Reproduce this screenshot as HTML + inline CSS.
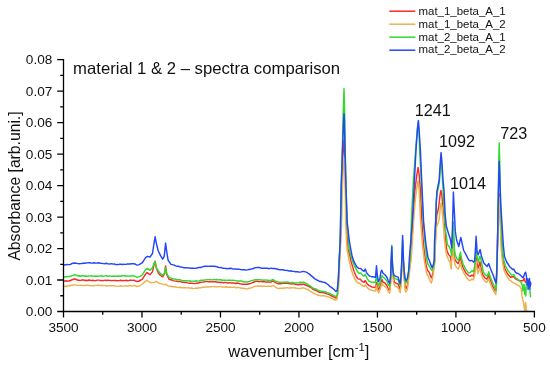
<!DOCTYPE html>
<html><head><meta charset="utf-8"><title>material 1 &amp; 2 – spectra comparison</title>
<style>
html,body{margin:0;padding:0;background:#fff;}
body{width:550px;height:368px;overflow:hidden;}
svg{display:block;}
text{font-family:"Liberation Sans",Arial,sans-serif;fill:#111;}
</style></head><body>
<svg width="550" height="368" viewBox="0 0 550 368">
<rect width="550" height="368" fill="#fff"/>
<polyline points="64.2,281.1 65.7,280.8 67.1,281.2 68.5,281.0 70.0,280.8 71.4,280.0 72.9,279.5 74.3,278.8 76.2,279.5 78.0,280.2 79.4,280.3 80.8,280.4 82.1,280.0 83.5,279.9 84.9,280.5 86.2,280.2 87.6,280.5 89.0,280.0 90.4,280.3 91.8,280.5 93.1,280.2 94.5,280.6 95.9,280.6 97.2,280.1 98.6,280.1 100.0,280.4 101.3,280.4 102.6,280.7 103.9,280.4 105.2,280.3 106.5,280.5 107.8,280.2 109.2,280.4 110.5,280.5 111.8,280.6 113.1,280.5 114.4,280.5 115.7,280.5 117.0,280.7 118.3,280.6 119.6,280.5 120.9,280.3 122.2,280.8 123.5,280.5 124.8,280.6 126.2,280.2 127.5,280.7 128.8,280.6 130.1,280.1 131.4,280.2 132.7,280.4 134.0,280.2 135.6,281.0 137.1,281.5 138.6,281.3 140.0,280.5 142.4,279.2 145.6,274.1 147.1,272.6 148.6,273.7 150.0,274.8 152.5,271.6 154.2,264.0 155.1,261.1 156.3,267.8 158.5,273.5 159.9,274.8 161.3,275.8 162.7,276.8 164.6,273.5 165.6,265.9 166.7,274.5 169.0,279.2 170.3,279.5 171.7,280.0 173.0,280.6 174.4,280.9 175.7,281.1 177.1,281.3 178.4,281.6 179.8,281.4 181.1,281.8 182.5,282.4 183.8,282.3 185.2,282.6 186.6,282.5 187.9,282.9 189.3,283.2 190.6,283.3 192.0,283.2 193.3,283.4 194.7,283.6 196.2,283.3 197.7,283.2 199.3,282.7 200.8,282.3 202.3,282.1 203.8,282.0 205.3,281.6 206.9,281.4 208.4,281.8 209.9,281.5 211.3,281.9 212.6,281.8 214.0,281.7 215.4,281.7 216.8,282.0 218.1,282.4 219.5,282.2 220.9,282.5 222.2,282.4 223.6,282.7 224.9,282.4 226.3,282.6 227.6,283.0 229.0,282.8 230.4,282.9 231.7,282.9 233.1,282.9 234.4,283.2 235.8,283.5 237.1,283.0 238.5,283.4 240.0,283.8 241.5,284.0 243.1,284.2 244.6,284.3 246.1,284.3 247.7,284.2 249.3,283.7 250.9,283.4 252.5,282.7 254.1,282.0 255.7,281.3 257.1,281.1 258.4,281.7 259.8,281.6 261.1,281.5 262.5,281.7 263.8,281.8 265.2,281.9 266.6,281.9 268.0,282.0 269.5,282.1 270.9,282.2 273.2,280.9 274.7,282.2 276.6,283.1 278.5,283.8 280.0,283.8 281.5,283.6 283.1,283.3 284.6,283.3 286.1,283.4 287.6,283.3 289.1,283.6 290.7,283.9 292.2,283.9 293.7,283.8 295.4,284.3 297.1,284.6 298.8,284.7 300.4,284.3 302.0,284.5 303.6,284.1 305.5,285.0 307.4,285.7 308.7,286.3 310.0,287.0 311.4,287.8 312.7,289.1 314.0,289.8 315.4,290.3 316.9,290.8 318.3,291.8 319.7,292.3 321.1,292.5 322.5,292.5 324.0,292.8 325.4,293.3 326.8,293.9 328.2,294.2 329.7,294.9 331.1,295.6 332.7,296.5 334.3,297.2 335.9,298.0 337.2,296.7 338.3,285.0 339.4,259.0 340.4,240.0 340.9,220.0 341.6,185.0 342.6,160.0 343.6,145.0 344.0,140.0 344.4,145.0 344.9,160.0 345.5,185.0 346.3,222.0 347.3,240.0 348.2,250.0 349.8,255.5 350.9,260.9 352.5,266.4 354.2,271.8 356.4,276.7 358.0,278.9 360.2,279.2 362.4,281.6 364.0,282.2 365.3,280.5 366.7,283.3 368.9,285.5 370.5,286.2 372.2,287.1 373.9,287.3 375.5,287.6 376.5,282.7 377.6,287.6 378.7,289.8 380.6,285.0 382.0,279.5 383.1,282.2 384.7,282.7 386.9,285.5 388.2,288.9 389.6,290.3 390.6,282.0 391.2,266.0 391.8,254.0 392.4,266.0 393.6,279.1 394.7,282.4 396.4,283.5 398.0,283.8 399.4,287.8 400.2,289.2 401.0,282.0 401.8,266.0 402.6,248.0 403.5,266.0 404.5,280.0 405.3,287.8 406.0,288.6 407.5,285.1 409.2,270.9 410.5,260.0 412.0,235.0 412.9,220.0 415.0,190.0 416.8,175.0 418.1,167.4 419.2,175.0 420.4,190.0 421.8,220.0 423.5,245.0 425.3,260.0 426.4,266.5 427.5,270.4 429.1,272.0 430.7,276.4 431.6,278.0 432.9,273.1 434.0,265.5 434.9,260.0 435.4,241.0 436.0,225.0 436.8,215.0 437.5,212.7 438.5,208.0 439.5,200.0 440.3,193.0 441.0,190.4 441.8,195.0 442.8,205.0 444.0,215.0 445.2,231.4 446.3,246.6 446.8,250.0 448.5,254.4 450.3,256.5 451.4,262.0 452.2,245.0 452.9,228.0 453.6,245.0 454.3,256.0 455.0,259.8 456.6,262.0 458.3,263.6 459.7,259.0 460.5,256.5 461.5,263.1 463.2,268.0 465.9,272.9 468.6,275.6 470.3,276.2 471.9,275.1 473.5,276.2 474.6,272.0 475.5,262.0 476.1,254.0 476.8,262.0 477.9,268.5 478.7,266.5 479.5,263.1 480.0,262.0 481.1,268.5 482.7,274.5 484.9,277.8 487.1,279.2 488.7,275.1 490.4,280.5 492.5,286.0 494.7,290.0 495.8,291.5 496.7,275.0 497.4,245.0 498.2,215.0 498.8,198.0 499.2,193.5 499.7,200.0 500.4,220.0 501.8,250.0 503.1,260.9 504.5,268.0 507.3,273.5 510.5,277.3 512.1,276.7 513.8,276.8 515.5,278.9 516.9,279.5 518.2,280.3 519.6,280.8 521.2,280.7 522.9,280.8 524.5,278.5 525.3,282.0 526.4,283.0 527.5,280.5 528.6,282.0 529.4,285.0 530.2,286.1 530.7,283.0" fill="none" stroke="#fb2828" stroke-width="1.45" stroke-linejoin="round" stroke-linecap="round"/>
<polyline points="64.2,286.3 65.7,286.5 67.1,286.3 68.5,285.6 70.0,285.8 71.4,285.1 72.9,285.2 74.3,284.6 76.2,285.1 78.0,285.3 79.4,285.4 80.8,285.2 82.1,285.4 83.5,285.4 84.9,285.4 86.2,285.2 87.6,285.3 89.0,285.3 90.4,285.6 91.8,285.7 93.1,285.7 94.5,285.5 95.9,285.4 97.2,285.3 98.6,285.2 100.0,285.5 101.3,285.2 102.6,285.6 103.9,285.5 105.2,285.6 106.5,286.0 107.8,285.8 109.2,285.9 110.5,285.7 111.8,285.6 113.1,285.8 114.4,285.8 115.7,286.1 117.0,286.1 118.3,286.4 119.6,286.1 120.9,285.8 122.2,286.2 123.5,286.1 124.8,286.0 126.2,286.0 127.5,285.9 128.8,285.9 130.1,285.5 131.4,285.9 132.7,285.8 134.0,285.5 135.6,285.8 137.1,286.5 138.6,286.2 140.0,285.5 142.4,284.0 145.6,281.1 147.1,280.2 148.6,281.5 150.0,282.5 151.9,282.5 153.8,282.6 156.3,281.5 158.5,283.0 160.1,283.5 161.7,283.9 163.3,284.4 165.8,284.4 168.0,285.9 169.5,286.4 171.1,286.3 172.6,286.8 174.2,286.7 175.7,287.0 177.1,287.4 178.4,287.5 179.8,287.3 181.1,287.5 182.5,287.8 183.8,287.8 185.2,287.8 186.6,287.9 187.9,287.8 189.3,287.9 190.6,288.3 192.0,288.0 193.3,288.6 194.7,288.4 196.2,288.0 197.7,288.2 199.3,287.6 200.8,287.7 202.3,287.2 203.8,287.3 205.3,287.0 206.9,287.0 208.4,287.0 209.9,286.8 211.3,286.8 212.6,286.6 214.0,286.5 215.4,286.7 216.8,286.9 218.1,286.7 219.5,286.6 220.9,286.4 222.2,287.0 223.6,287.0 224.9,287.2 226.3,286.8 227.6,287.3 229.0,287.2 230.4,287.0 231.7,287.4 233.1,287.2 234.4,287.3 235.8,287.7 237.1,287.3 238.5,287.6 240.0,287.9 241.5,288.3 243.1,288.2 244.6,288.5 246.1,288.9 247.7,288.8 249.3,288.2 250.9,287.9 252.5,287.5 254.1,286.5 255.7,286.2 257.1,286.1 258.4,286.0 259.8,286.3 261.1,285.9 262.5,286.5 263.8,285.9 265.2,286.2 266.6,286.4 268.0,286.1 269.5,286.3 270.9,286.6 273.2,285.3 275.6,287.2 277.1,288.1 278.5,288.5 280.0,288.2 281.5,288.1 283.1,288.3 284.6,287.9 286.1,287.9 287.6,287.6 289.1,288.2 290.7,287.7 292.2,287.6 293.7,287.9 295.4,288.0 297.1,288.4 298.8,288.5 300.4,288.5 302.0,287.9 303.6,287.9 305.5,288.6 307.4,289.5 308.7,290.0 310.0,291.0 311.4,292.0 312.7,292.7 314.0,293.3 315.4,294.1 316.9,294.6 318.3,295.3 319.7,295.6 321.1,295.9 322.5,295.8 324.0,295.8 325.4,296.1 326.8,296.7 328.2,296.9 329.7,297.3 331.1,298.0 332.7,298.7 334.3,299.8 335.9,300.3 337.2,299.0 338.6,287.0 339.8,260.0 340.9,240.0 341.7,220.0 342.3,190.0 343.2,170.0 343.8,160.0 344.1,157.6 344.4,160.0 344.8,170.0 345.3,190.0 345.7,222.0 346.5,240.0 347.1,250.0 348.2,255.5 349.3,260.9 350.9,268.5 353.1,275.1 355.3,280.0 357.5,282.7 359.6,283.3 361.8,285.5 364.0,286.5 365.3,284.9 366.7,287.1 368.9,289.3 370.5,289.7 372.2,290.5 373.9,290.8 375.5,291.0 376.5,285.5 377.6,291.0 378.7,293.0 380.6,288.0 382.0,282.7 383.1,285.5 384.7,286.2 386.9,288.2 388.2,291.6 389.6,293.3 390.6,285.0 391.2,270.0 391.8,259.0 392.4,270.0 393.6,282.9 394.7,285.6 396.4,286.7 398.0,287.3 399.4,291.1 400.2,292.4 401.0,285.0 401.8,270.0 402.6,254.0 403.5,270.0 404.5,283.0 405.3,291.1 406.0,291.9 407.5,288.9 409.5,270.9 411.1,260.0 412.5,240.0 413.8,218.0 415.3,200.0 416.8,188.0 418.1,181.0 419.3,192.0 420.4,218.0 420.9,225.0 422.5,245.0 424.2,260.0 425.3,266.5 426.9,274.2 428.5,276.9 430.2,281.3 431.3,283.1 432.6,278.5 433.7,270.9 435.1,260.0 435.4,245.0 436.0,232.0 436.6,226.5 437.6,224.3 438.6,221.5 439.3,218.0 439.8,213.0 440.4,207.0 441.1,202.9 442.0,208.0 443.0,220.0 444.5,240.0 445.7,250.0 446.8,255.5 448.5,259.8 450.1,262.5 451.2,269.1 452.0,250.0 452.7,236.0 453.4,250.0 454.2,260.0 455.0,264.7 456.6,267.5 458.3,269.1 459.7,265.0 460.5,262.5 461.5,268.0 463.2,271.8 465.9,276.7 468.6,280.0 470.3,280.5 471.9,278.9 473.5,280.0 474.6,276.0 475.5,268.0 476.1,261.0 476.8,268.0 477.9,273.5 478.7,271.0 479.5,267.5 480.0,267.5 481.1,273.5 482.7,278.4 484.9,281.1 486.8,282.4 488.5,278.6 490.4,283.8 492.5,288.7 494.5,292.5 495.8,294.7 496.7,278.0 497.5,245.0 498.3,218.0 498.8,203.0 499.2,197.3 499.6,203.0 500.2,222.0 501.3,250.0 502.4,260.9 503.8,269.6 506.2,275.1 509.0,279.6 510.4,280.5 511.7,281.6 513.1,282.6 514.7,283.2 516.3,284.3 518.0,285.5 519.6,286.1 521.2,288.6 522.0,295.9 523.7,304.1 524.8,310.8 525.5,302.4 526.6,310.8" fill="none" stroke="#ecb24e" stroke-width="1.45" stroke-linejoin="round" stroke-linecap="round"/>
<polyline points="64.2,276.9 65.7,276.6 67.1,276.7 68.5,276.5 70.0,276.5 71.4,276.0 72.9,275.4 74.3,274.8 76.2,275.1 78.0,276.0 79.4,275.7 80.8,276.2 82.1,275.8 83.5,275.8 84.9,276.3 86.2,276.0 87.6,276.2 89.0,276.0 90.4,276.1 91.8,275.8 93.1,276.1 94.5,276.2 95.9,276.0 97.2,276.2 98.6,276.1 100.0,276.0 101.3,275.7 102.6,276.2 103.9,276.1 105.2,275.9 106.5,275.7 107.8,276.2 109.2,276.0 110.5,276.1 111.8,276.2 113.1,276.1 114.4,276.3 115.7,275.9 117.0,276.2 118.3,276.0 119.6,276.3 120.9,276.2 122.2,275.7 123.5,275.8 124.8,275.8 126.2,276.3 127.5,276.0 128.8,276.1 130.1,275.9 131.4,276.0 132.7,275.9 134.0,276.0 135.6,276.6 137.1,277.3 138.6,276.9 140.0,276.3 142.4,274.8 145.6,269.7 147.5,268.4 150.0,270.3 152.5,267.8 154.2,263.1 155.1,261.5 156.5,267.8 159.5,272.6 161.1,274.1 162.7,275.4 164.6,272.6 165.6,267.8 166.7,273.5 169.0,277.3 170.3,277.9 171.7,278.2 173.0,278.7 174.4,279.0 175.7,279.2 177.1,279.7 178.4,279.7 179.8,279.6 181.1,280.2 182.5,280.5 183.8,280.7 185.2,280.6 186.6,280.7 187.9,280.9 189.3,280.7 190.6,281.2 192.0,281.1 193.3,281.1 194.7,281.3 196.2,280.8 197.7,281.1 199.3,281.0 200.8,280.2 202.3,280.2 203.8,280.3 205.3,279.9 206.9,279.6 208.4,279.6 209.9,279.6 211.3,279.8 212.6,279.9 214.0,279.4 215.4,279.8 216.8,279.5 218.1,279.9 219.5,279.8 220.9,279.8 222.2,280.2 223.6,280.3 224.9,280.1 226.3,280.5 227.6,280.1 229.0,280.3 230.4,280.1 231.7,280.5 233.1,280.3 234.4,280.4 235.8,280.7 237.1,280.9 238.5,280.9 240.0,280.9 241.5,281.0 243.1,281.7 244.6,281.6 246.1,281.9 247.7,281.9 249.3,281.5 250.9,280.9 252.5,280.4 254.1,280.0 255.7,279.6 257.1,279.7 258.4,279.8 259.8,279.8 261.1,279.9 262.5,280.0 263.8,280.2 265.2,280.0 266.6,280.1 268.0,280.2 269.5,280.5 270.9,280.5 273.2,279.4 274.7,280.9 276.6,281.4 278.5,282.2 280.0,282.1 281.5,282.5 283.1,282.2 284.6,282.2 286.1,282.2 287.6,282.0 289.1,282.4 290.7,282.6 292.2,282.4 293.7,282.8 295.4,282.9 297.1,282.9 298.8,282.8 300.4,282.3 302.0,282.5 303.6,282.2 305.5,283.1 307.4,284.1 308.7,285.1 310.0,285.8 311.4,286.9 312.7,287.8 314.0,288.5 315.4,288.8 316.9,289.5 318.3,290.5 319.7,291.0 321.1,291.5 322.5,291.2 324.0,291.6 325.4,291.8 326.8,292.5 328.2,292.9 329.7,293.5 331.1,294.2 332.7,294.9 334.3,295.8 335.9,296.7 337.2,295.2 338.2,283.8 339.2,259.0 340.2,240.0 340.6,220.0 341.2,185.0 342.3,150.0 343.3,110.0 344.0,88.7 344.6,110.0 345.2,150.0 346.0,185.0 347.0,222.0 348.5,240.0 349.3,250.0 350.9,255.5 352.5,260.9 354.7,266.4 357.5,271.8 359.1,273.5 360.7,272.9 362.9,275.6 364.0,276.2 365.3,274.2 366.7,277.8 368.9,281.1 370.5,281.7 372.2,282.2 373.9,282.2 375.5,282.5 376.5,274.0 377.6,282.7 378.7,286.0 380.6,280.5 382.0,275.6 383.1,277.3 384.7,278.1 386.9,281.1 388.2,284.5 389.6,286.2 390.6,278.0 391.2,260.0 391.8,245.2 392.3,260.0 393.3,275.3 394.2,278.0 396.4,279.1 398.0,279.6 399.4,284.0 400.2,285.6 401.0,278.0 401.8,262.0 402.6,240.0 403.5,262.0 404.5,276.4 405.3,281.8 406.0,282.9 407.5,279.6 408.9,270.9 410.0,260.0 411.0,235.0 411.4,220.0 413.1,185.0 416.0,145.0 417.3,130.0 418.2,123.0 419.0,132.0 419.6,150.0 421.5,185.0 423.2,220.0 425.2,245.0 426.9,260.0 428.0,264.4 429.6,266.5 431.3,269.8 432.1,270.4 433.7,265.5 434.5,260.0 434.8,241.0 435.7,222.0 436.4,202.0 437.2,193.0 438.4,187.6 439.4,182.0 440.4,166.0 441.1,157.0 441.8,166.0 442.8,185.0 444.4,215.0 445.7,231.4 447.4,244.5 449.5,247.2 450.6,250.0 451.7,255.5 452.5,240.0 453.4,222.0 454.5,250.0 455.5,255.5 457.2,259.3 458.6,260.4 459.7,255.5 460.5,252.2 461.5,258.7 463.2,264.2 465.9,269.6 468.6,272.9 470.3,272.4 471.9,270.7 473.5,271.8 474.6,266.4 475.7,255.5 476.1,247.0 476.7,255.0 477.4,258.7 478.5,262.0 479.5,256.5 480.0,256.5 481.3,260.9 483.3,271.8 485.5,275.1 487.4,276.2 488.7,271.8 490.4,277.3 493.1,283.8 495.8,289.3 496.1,290.4 496.9,270.0 497.5,245.0 498.1,205.0 498.8,160.0 499.2,142.9 499.7,160.0 500.6,205.0 502.4,250.0 503.5,258.7 505.6,266.4 508.4,271.3 511.6,275.1 513.8,274.5 515.5,277.8 516.9,278.6 518.2,279.5 521.5,282.7 522.4,286.0 522.9,291.0 523.5,285.0 524.0,284.5 524.8,294.3 525.4,288.0 525.8,296.0 526.3,284.0 526.9,281.2 528.1,279.6 528.8,284.0 529.4,287.8 530.0,291.0 530.5,296.7" fill="none" stroke="#30da30" stroke-width="1.45" stroke-linejoin="round" stroke-linecap="round"/>
<polyline points="64.2,265.0 65.7,264.7 67.1,264.5 68.5,264.6 70.0,264.6 71.4,263.8 72.9,263.3 74.3,263.0 76.2,263.2 78.0,263.6 79.3,263.8 80.7,263.6 82.0,263.5 83.3,263.1 84.7,263.2 86.0,263.0 87.3,262.9 88.7,262.7 90.0,262.7 91.3,263.1 92.7,263.0 94.0,262.7 95.4,263.0 96.7,263.1 98.1,262.8 99.4,263.0 100.8,263.3 102.1,263.4 103.5,263.6 104.8,263.7 106.2,263.3 107.5,263.8 108.9,263.9 110.2,263.9 111.6,263.8 112.9,264.1 114.3,263.9 115.6,264.6 117.0,264.4 118.3,264.6 119.6,264.3 120.9,264.1 122.2,264.5 123.5,264.2 124.8,264.4 126.2,264.3 127.5,264.0 128.8,263.9 130.1,264.0 131.4,263.8 132.7,263.6 134.0,263.8 135.6,264.3 137.1,265.1 138.6,264.9 140.0,264.2 142.4,262.7 145.6,257.7 147.5,256.4 150.0,257.0 152.5,253.5 154.2,242.1 155.1,236.8 156.3,243.1 158.2,250.7 160.4,255.4 162.7,259.2 164.2,256.4 165.6,243.1 166.7,251.6 168.1,260.2 170.9,264.4 172.5,264.6 174.1,265.1 175.7,265.9 177.1,266.3 178.4,266.3 179.8,266.7 181.1,267.0 182.5,267.2 183.8,267.8 185.2,267.8 186.6,267.7 187.9,267.9 189.3,267.9 190.6,268.2 192.0,268.1 193.3,268.2 194.7,268.4 196.2,268.3 197.7,267.7 199.3,267.5 200.8,267.5 202.3,266.9 203.8,266.5 205.3,266.3 206.9,266.2 208.4,266.4 209.9,266.1 211.3,266.3 212.8,266.1 214.2,266.3 215.6,266.5 216.9,266.7 218.2,267.2 219.5,267.6 220.9,267.4 222.2,268.0 223.6,268.2 224.9,268.4 226.3,268.4 227.6,268.7 229.0,268.5 230.4,268.3 231.7,268.5 233.1,269.1 234.4,269.0 235.8,268.9 237.1,269.3 238.5,269.1 240.0,269.4 241.5,269.7 243.1,269.6 244.6,269.7 246.1,270.1 247.4,269.9 248.7,269.5 250.0,269.5 251.4,268.9 252.8,268.8 254.3,268.0 255.7,267.6 257.2,267.4 258.7,267.5 260.3,267.7 261.8,268.3 263.3,268.2 264.7,268.2 266.0,268.2 267.4,268.1 268.7,268.7 270.1,268.4 271.4,268.3 272.8,268.5 274.2,268.5 275.6,268.7 277.1,269.0 278.5,269.5 280.0,269.8 281.5,269.6 283.1,269.7 284.6,270.2 286.1,270.4 287.6,270.4 289.1,271.1 290.7,270.8 292.2,271.2 293.7,271.4 295.4,271.8 297.1,271.7 298.8,272.0 300.4,272.1 302.0,271.6 303.6,271.4 305.5,271.9 307.4,272.7 308.7,273.7 310.0,274.6 311.4,275.9 312.7,276.9 314.0,278.1 315.4,279.2 316.9,280.0 318.3,280.6 319.7,281.5 321.1,281.5 322.5,282.0 324.0,282.3 325.4,282.8 326.8,283.7 328.2,284.8 329.7,286.3 331.1,287.2 332.7,288.4 334.3,289.7 335.9,291.4 337.2,290.4 338.4,278.0 339.3,259.0 340.3,240.0 340.6,220.0 341.3,185.0 342.5,150.0 343.6,120.0 344.0,113.8 344.4,120.0 345.0,150.0 345.9,185.0 347.2,222.0 349.2,240.0 350.9,250.0 352.0,255.5 353.6,260.9 356.4,266.4 358.5,268.3 360.7,268.5 362.9,270.7 364.0,271.3 365.3,269.1 366.7,272.9 368.9,275.6 370.5,276.4 372.2,276.7 373.9,277.0 375.5,277.3 376.5,265.8 377.3,275.1 378.4,281.6 379.8,279.0 380.9,271.8 381.8,270.2 383.1,273.5 384.7,274.5 386.9,277.3 388.2,280.7 389.6,283.5 390.6,276.4 391.2,260.0 391.8,246.8 392.2,260.0 392.9,270.9 394.0,275.3 396.4,276.6 398.0,276.9 399.4,281.8 400.2,283.5 401.0,276.4 401.8,260.0 402.6,235.4 403.5,260.0 404.2,270.9 405.1,278.5 406.0,280.7 407.3,278.5 408.6,270.9 409.4,258.0 411.2,236.0 412.6,218.0 414.2,185.0 416.0,150.0 417.5,128.0 418.4,120.4 419.3,133.0 420.4,150.0 421.9,185.0 423.6,222.0 426.0,245.0 428.0,257.7 429.1,260.0 430.7,264.4 431.8,266.9 432.1,267.6 433.5,264.4 434.2,260.0 434.5,241.4 435.6,222.0 436.2,201.8 437.0,191.0 438.1,185.5 439.2,180.0 440.3,162.0 441.1,152.6 441.9,162.0 443.0,180.0 444.0,190.0 445.2,215.0 446.3,225.9 448.5,233.5 450.3,239.0 451.7,247.7 452.3,232.0 452.8,215.0 453.4,192.0 454.0,205.0 454.5,215.0 455.3,231.4 456.6,240.1 458.8,246.6 459.9,241.2 460.8,237.4 462.1,243.4 463.7,250.5 465.9,254.4 468.6,259.8 470.3,260.9 471.9,260.4 473.5,262.0 474.6,260.9 475.4,250.0 476.1,236.3 477.1,252.2 478.2,254.9 479.3,251.5 480.1,249.6 481.4,256.0 483.8,263.1 487.1,266.4 488.7,263.6 490.4,268.5 493.1,275.1 495.3,281.6 496.1,283.3 496.9,266.4 497.5,245.0 498.1,205.0 498.8,175.0 499.2,161.2 499.7,175.0 500.8,205.0 503.3,245.0 504.5,256.5 506.7,262.0 509.5,266.4 512.7,269.6 513.8,269.1 515.5,272.4 516.9,273.3 518.2,273.5 519.9,274.8 521.5,276.2 523.2,278.0 524.5,273.9 525.6,272.2 526.4,276.0 526.9,281.0 527.3,285.0 527.7,279.0 528.1,289.5 528.6,281.0 529.1,283.0 529.5,278.5 529.9,289.0 530.3,282.0 530.6,285.0" fill="none" stroke="#2446fa" stroke-width="1.45" stroke-linejoin="round" stroke-linecap="round"/>
<path d="M63.5,59.05 V311.5 H535.05" fill="none" stroke="#000" stroke-width="1.3"/>
<path d="M57.2,311.50H63.5M60.2,295.76H63.5M57.2,280.02H63.5M60.2,264.29H63.5M57.2,248.55H63.5M60.2,232.81H63.5M57.2,217.07H63.5M60.2,201.34H63.5M57.2,185.60H63.5M60.2,169.86H63.5M57.2,154.12H63.5M60.2,138.39H63.5M57.2,122.65H63.5M60.2,106.91H63.5M57.2,91.17H63.5M60.2,75.44H63.5M57.2,59.70H63.5M534.40,311.5V317.5M495.16,311.5V314.7M455.92,311.5V317.5M416.68,311.5V314.7M377.43,311.5V317.5M338.19,311.5V314.7M298.95,311.5V317.5M259.71,311.5V314.7M220.47,311.5V317.5M181.23,311.5V314.7M141.98,311.5V317.5M102.74,311.5V314.7M63.50,311.5V317.5" fill="none" stroke="#000" stroke-width="1.3"/>
<text x="52.3" y="316.2" text-anchor="end" font-size="13.6">0.00</text>
<text x="52.3" y="284.7" text-anchor="end" font-size="13.6">0.01</text>
<text x="52.3" y="253.2" text-anchor="end" font-size="13.6">0.02</text>
<text x="52.3" y="221.8" text-anchor="end" font-size="13.6">0.03</text>
<text x="52.3" y="190.3" text-anchor="end" font-size="13.6">0.04</text>
<text x="52.3" y="158.8" text-anchor="end" font-size="13.6">0.05</text>
<text x="52.3" y="127.4" text-anchor="end" font-size="13.6">0.06</text>
<text x="52.3" y="95.9" text-anchor="end" font-size="13.6">0.07</text>
<text x="52.3" y="64.4" text-anchor="end" font-size="13.6">0.08</text>
<text x="534.4" y="332.3" text-anchor="middle" font-size="13.6">500</text>
<text x="455.9" y="332.3" text-anchor="middle" font-size="13.6">1000</text>
<text x="377.4" y="332.3" text-anchor="middle" font-size="13.6">1500</text>
<text x="299.0" y="332.3" text-anchor="middle" font-size="13.6">2000</text>
<text x="220.5" y="332.3" text-anchor="middle" font-size="13.6">2500</text>
<text x="142.0" y="332.3" text-anchor="middle" font-size="13.6">3000</text>
<text x="63.5" y="332.3" text-anchor="middle" font-size="13.6">3500</text>
<line x1="389.3" y1="11.2" x2="415.3" y2="11.2" stroke="#fb2828" stroke-width="1.5"/>
<text x="418.5" y="14.6" font-size="11.2" textLength="87.2" lengthAdjust="spacingAndGlyphs">mat_1_beta_A_1</text>
<line x1="389.3" y1="24.2" x2="415.3" y2="24.2" stroke="#ecb24e" stroke-width="1.5"/>
<text x="418.5" y="27.5" font-size="11.2" textLength="87.2" lengthAdjust="spacingAndGlyphs">mat_1_beta_A_2</text>
<line x1="389.3" y1="37.2" x2="415.3" y2="37.2" stroke="#30da30" stroke-width="1.5"/>
<text x="418.5" y="40.5" font-size="11.2" textLength="87.2" lengthAdjust="spacingAndGlyphs">mat_2_beta_A_1</text>
<line x1="389.3" y1="50.2" x2="415.3" y2="50.2" stroke="#2446fa" stroke-width="1.5"/>
<text x="418.5" y="53.4" font-size="11.2" textLength="87.2" lengthAdjust="spacingAndGlyphs">mat_2_beta_A_2</text>
<text x="73.1" y="74.3" font-size="16.5" textLength="267" lengthAdjust="spacingAndGlyphs">material 1 &amp; 2 – spectra comparison</text>
<text x="414.8" y="116" font-size="16.2">1241</text>
<text x="439" y="146.8" font-size="16.2">1092</text>
<text x="450.1" y="188.6" font-size="16.2">1014</text>
<text x="500.3" y="139" font-size="16.2">723</text>
<text x="228.3" y="357.1" font-size="16.6">wavenumber [cm<tspan font-size="11.3" dy="-6.3">-1</tspan><tspan dy="6.3">]</tspan></text>
<text transform="translate(19.6,260.6) rotate(-90)" font-size="16.3" textLength="149.2" lengthAdjust="spacingAndGlyphs">Absorbance [arb.uni.]</text>
</svg>
</body></html>
